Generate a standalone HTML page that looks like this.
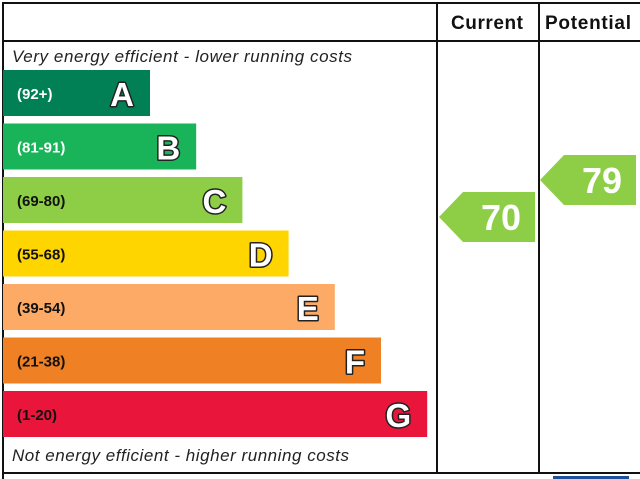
<!DOCTYPE html>
<html><head><meta charset="utf-8"><style>
body{margin:0;width:640px;height:479px;overflow:hidden;background:#fff;font-family:"Liberation Sans",Arial,sans-serif}
svg{display:block}
</style></head><body>
<svg width="640" height="479" viewBox="0 0 640 479">
<g id="frame" stroke="#111" stroke-width="2" fill="none">
<rect x="3" y="3" width="640" height="470"/>
<line x1="3" y1="41" x2="640" y2="41"/>
<line x1="437" y1="3" x2="437" y2="473"/>
<line x1="539" y1="3" x2="539" y2="473"/>
<line x1="3" y1="474" x2="3" y2="479"/>
</g>
<rect x="553" y="476" width="76" height="3" fill="#1f4e9a"/>
<text x="487" y="29" text-anchor="middle" font-size="19" font-weight="bold" fill="#111" textLength="72">Current</text>
<text x="588" y="29" text-anchor="middle" font-size="19" font-weight="bold" fill="#111" textLength="86">Potential</text>
<text x="12" y="62" font-size="17" font-style="italic" fill="#222" textLength="340">Very energy efficient - lower running costs</text>
<text x="12" y="461" font-size="17" font-style="italic" fill="#222" textLength="337">Not energy efficient - higher running costs</text>
<g id="bands"></g>
<g id="arrows"></g>
</svg>
<script>
const letters=['A','B','C','D','E','F','G'];
const ranges=['(92+)','(81-91)','(69-80)','(55-68)','(39-54)','(21-38)','(1-20)'];
const colors=['#008054','#19b459','#8dce46','#ffd500','#fcaa65','#ef8023','#e9153b'];
const currentValue=70;
const potentialValue=79;
const NS='http://www.w3.org/2000/svg';
function mk(t,a,p){const e=document.createElementNS(NS,t);for(const k in a)e.setAttribute(k,a[k]);p.appendChild(e);return e;}
const bands=document.getElementById('bands');
const bandTop=i=>70+i*53.5, bandH=46, bandW=i=>147+i*46.2;
letters.forEach((L,i)=>{
 const g=mk('g',{},bands);
 
 
 const y=bandTop(i);
 mk('rect',{x:3,y:y,width:bandW(i),height:bandH,fill:colors[i]},g);
 const t=mk('text',{x:17,y:y+29,'font-size':15,'font-weight':'bold',fill:i<2?'#fff':'#111'},g);t.textContent=ranges[i];
 const l=mk('text',{x:3+bandW(i)-16,y:y+36,'text-anchor':'end','font-size':33,'font-weight':'bold',fill:'#fff',stroke:'#222','stroke-width':3,'stroke-linejoin':'round','paint-order':'stroke'},g);
 l.textContent=L;
});
function valY(v){return 217-(v-70)*4.11;}
function bandColor(v){const lo=[92,81,69,55,39,21,1];for(let i=0;i<7;i++)if(v>=lo[i])return colors[i];return colors[6];}
const arrows=document.getElementById('arrows');
function arrow(v,x0,x1,name){
 const cy=valY(v),h=50;
 const g=mk('g',{},arrows);
 
 
 mk('polygon',{points:`${x0},${cy} ${x0+24},${cy-h/2} ${x1},${cy-h/2} ${x1},${cy+h/2} ${x0+24},${cy+h/2}`,fill:bandColor(v)},g);
 const t=mk('text',{x:(x0+24+x1)/2+2,y:cy+13,'text-anchor':'middle','font-size':36,'font-weight':'bold',fill:'#fff'},g);t.textContent=v;
}
arrow(currentValue,439,535,'current-rating-arrow');
arrow(potentialValue,540,636,'potential-rating-arrow');
</script>
</body></html>
